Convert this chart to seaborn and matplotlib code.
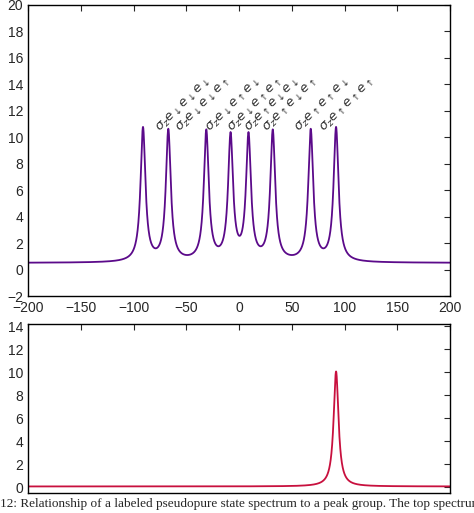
import numpy as np
import pandas as pd
import seaborn as sns
import matplotlib.pyplot as plt

sns.set_style("white")
plt.rcParams['font.family'] = ['Liberation Sans', 'DejaVu Sans']

# peak parameters
peak_pos = [-91, -67, -31, -8, 9, 32, 68, 92]
peak_amp = [10.1, 9.9, 9.8, 9.4, 9.4, 9.8, 9.9, 10.1]
peak_hwhm = 2.8
baseline_top = 0.5
labels = [r"$\sigma_z e_\downarrow e_\downarrow e_\downarrow$", r"$\sigma_z e_\downarrow e_\downarrow e_\uparrow$",
          r"$\sigma_z e_\downarrow e_\uparrow e_\downarrow$", r"$\sigma_z e_\downarrow e_\uparrow e_\uparrow$",
          r"$\sigma_z e_\uparrow e_\downarrow e_\downarrow$", r"$\sigma_z e_\uparrow e_\downarrow e_\uparrow$",
          r"$\sigma_z e_\uparrow e_\uparrow e_\downarrow$", r"$\sigma_z e_\uparrow e_\uparrow e_\uparrow$"]
label_x = [-72, -53, -25, -4, 12, 29, 60, 83]
label_y = 10.2

bottom_pos = 92
bottom_amp = 10.0
baseline_bottom = 0.07

x = np.linspace(-200, 200, 4001)
def lor(x0, a, w=peak_hwhm):
    return a * w**2 / ((x - x0)**2 + w**2)

top = baseline_top + sum(lor(p, a) for p, a in zip(peak_pos, peak_amp))
bot = baseline_bottom + lor(bottom_pos, bottom_amp, 2.8)
df = pd.DataFrame({"x": x, "top": top, "bot": bot})

fig = plt.figure(figsize=(4.74, 5.13), dpi=100)
ax1 = fig.add_axes([28/474, 1-296/513, 422/474, 291/513])
ax2 = fig.add_axes([28/474, 1-493/513, 422/474, 169/513])

sns.lineplot(data=df, x="x", y="top", ax=ax1, color="#5b0a8a", lw=1.3)
sns.lineplot(data=df, x="x", y="bot", ax=ax2, color="#c8103e", lw=1.3)

for t, lx in zip(labels, label_x):
    ax1.text(lx, label_y, t, rotation=45, ha="left", va="bottom", fontsize=9.5, color="#333333",
             rotation_mode="anchor")

ax1.set_xlim(-200, 200); ax1.set_ylim(-2, 20)
ax1.set_yticks(range(-2, 21, 2))
ax2.set_xlim(-200, 200); ax2.set_ylim(-0.5, 14.2)
ax2.set_yticks(range(0, 15, 2))
ax2.set_xticks(range(-200, 201, 50)); ax2.set_xticklabels([])

for ax in (ax1, ax2):
    ax.set_xlabel(""); ax.set_ylabel("")
    ax.tick_params(direction="in", top=True, right=True, length=4, labelsize=10)
    for s in ax.spines.values():
        s.set_linewidth(1.0); s.set_color("black")

fig.text(0.0, 0.005, "12: Relationship of a labeled pseudopure state spectrum to a peak group. The top spectrum",
         fontsize=9.5, family="Liberation Serif", ha="left", va="bottom")
fig.savefig("out.png", dpi=100)
